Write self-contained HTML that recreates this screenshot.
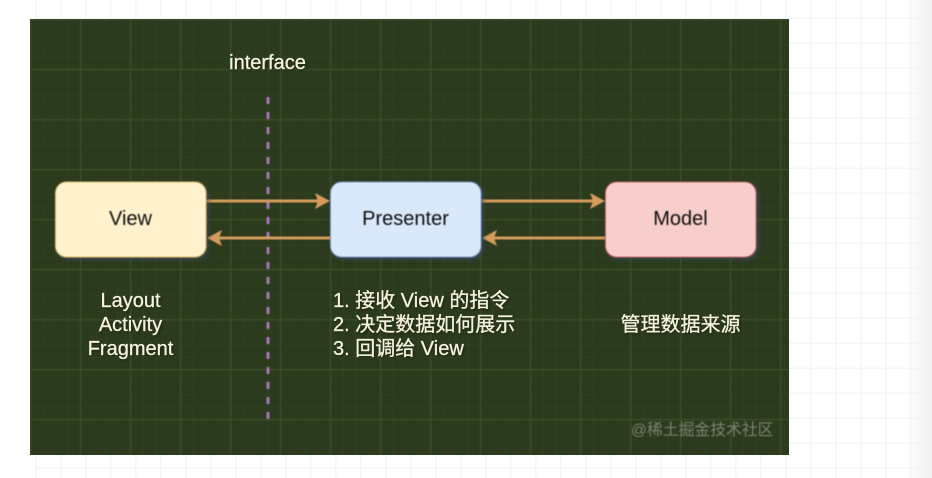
<!DOCTYPE html>
<html>
<head>
<meta charset="utf-8">
<style>
html,body{margin:0;padding:0;background:#fff;width:932px;height:478px;overflow:hidden}
svg{display:block}
text{font-family:"Liberation Sans","Noto Sans CJK SC",sans-serif;font-size:20px}
.w{fill:#f6f3df;stroke:#f6f3df;stroke-width:.25px;filter:url(#ts)}
.k{fill:#111;text-anchor:middle;filter:url(#b)}
</style>
</head>
<body>
<svg width="932" height="478" viewBox="0 0 932 478" xmlns="http://www.w3.org/2000/svg">
<defs>
<pattern id="lg" width="25" height="25" patternUnits="userSpaceOnUse" x="10" y="17.500">
<path d="M0 0V25M0 0H25" stroke="#f6f6f6" stroke-width="3" fill="none"/>
</pattern>
<pattern id="minor" width="12.500" height="12.500" patternUnits="userSpaceOnUse" x="30" y="19">
<path d="M.5 0V12.500M0 .5H12.500" stroke="#2f4024" stroke-width="2" fill="none"/>
</pattern>
<pattern id="major" width="50" height="50" patternUnits="userSpaceOnUse" x="30" y="19">
<path d="M.5 0V50M0 .5H50" stroke="#3b5028" stroke-width="1.500" fill="none"/>
</pattern>
<linearGradient id="edge" x1="0" x2="1" y1="0" y2="0">
<stop offset="0" stop-color="#f2f2f2" stop-opacity="0"/>
<stop offset="1" stop-color="#f0f0f0"/>
</linearGradient>
<filter id="b" x="-10%" y="-10%" width="120%" height="120%"><feGaussianBlur stdDeviation=".4"/></filter>
<filter id="ts" x="-10%" y="-20%" width="120%" height="140%">
<feGaussianBlur in="SourceAlpha" stdDeviation="1.200" result="s"/>
<feOffset in="s" dx="1.500" dy="1.500" result="o"/>
<feFlood flood-color="#000" flood-opacity=".35"/>
<feComposite in2="o" operator="in" result="sh"/>
<feGaussianBlur in="SourceGraphic" stdDeviation=".35" result="t"/>
<feMerge><feMergeNode in="sh"/><feMergeNode in="t"/></feMerge>
</filter>
<filter id="sh" x="-15%" y="-20%" width="130%" height="145%">
<feDropShadow dx="2" dy="2" stdDeviation="2" flood-color="#3a4a6a" flood-opacity=".65"/>
</filter>
<clipPath id="dk"><rect x="30" y="19" width="759" height="436"/></clipPath>
</defs>

<rect x="35" y="0" width="897" height="478" fill="url(#lg)"/>
<rect x="905" y="0" width="27" height="478" fill="url(#edge)"/>

<rect x="30" y="19" width="759" height="436" fill="#2c3a1d"/>
<g clip-path="url(#dk)">
<rect x="30" y="19" width="759" height="436" fill="url(#minor)" filter="url(#b)"/>
<rect x="30" y="19" width="759" height="436" fill="url(#major)" filter="url(#b)"/>
</g>

<g filter="url(#b)">
<line x1="268" y1="97" x2="268" y2="420" stroke="#a576b6" stroke-width="3" stroke-dasharray="7 8"/>
<g stroke="#d59b5c" stroke-width="3" fill="none">
<line x1="206" y1="201" x2="320" y2="201"/>
<line x1="216" y1="238" x2="331" y2="238"/>
<line x1="481" y1="201" x2="595" y2="201"/>
<line x1="491" y1="238" x2="606" y2="238"/>
</g>
<g fill="#d59b5c">
<path d="M330 201L315 193L318 201L315 209Z"/>
<path d="M207 238L222 230L219 238L222 246Z"/>
<path d="M605 201L590 193L593 201L590 209Z"/>
<path d="M482 238L497 230L494 238L497 246Z"/>
</g>
<rect x="55.500" y="182" width="150.500" height="75" rx="11" fill="#fff2cc" stroke="#d6b656" stroke-width="1" filter="url(#sh)"/>
<rect x="330.500" y="182" width="150.500" height="75" rx="11" fill="#dae8fc" stroke="#6c8ebf" stroke-width="1" filter="url(#sh)"/>
<rect x="605.500" y="182" width="150.500" height="75" rx="11" fill="#f8cecc" stroke="#b85450" stroke-width="1" filter="url(#sh)"/>
</g>

<text class="k" x="130.500" y="225">View</text>
<text class="k" x="405.500" y="225">Presenter</text>
<text class="k" x="680.500" y="225">Model</text>

<text class="w" x="267.500" y="69" text-anchor="middle">interface</text>
<text class="w" x="130.500" y="307" text-anchor="middle">Layout</text>
<text class="w" x="130.500" y="331" text-anchor="middle">Activity</text>
<text class="w" x="130.500" y="355" text-anchor="middle">Fragment</text>
<text class="w" x="333" y="307">1. 接收 View 的指令</text>
<text class="w" x="333" y="331">2. 决定数据如何展示</text>
<text class="w" x="333" y="355">3. 回调给 View</text>
<text class="w" x="680.500" y="331" text-anchor="middle">管理数据来源</text>
<text x="631" y="435" style="font-size:15.800px;fill:#7b8272;filter:url(#b)">@稀土掘金技术社区</text>
</svg>
</body>
</html>
